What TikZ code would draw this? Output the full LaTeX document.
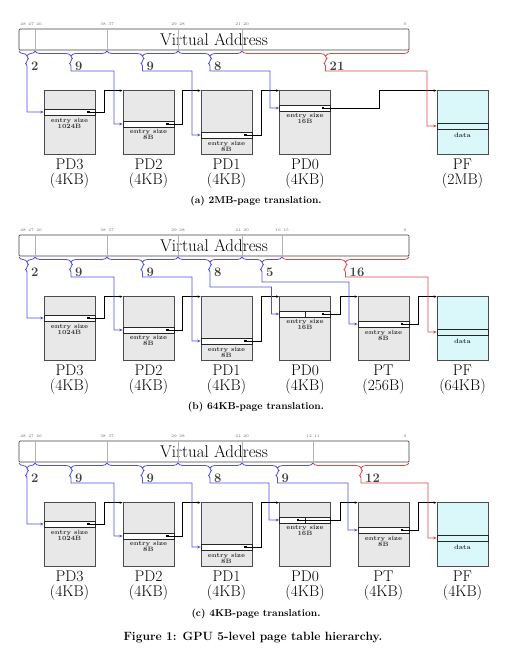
\documentclass[tikz,border=0pt]{standalone}
\usepackage{tikz}
\usetikzlibrary{arrows.meta,decorations.pathreplacing}

\definecolor{vablue}{RGB}{80,80,220}
\definecolor{vared}{RGB}{215,75,75}
\definecolor{pfcyan}{RGB}{218,248,250}
\definecolor{tblgray}{RGB}{232,232,232}

\begin{document}
\begin{tikzpicture}[x=1pt, y=-1pt,
  vabox/.style={draw=black!75, line width=0.7pt, rounded corners=1pt, minimum width=390pt, minimum height=21pt, inner sep=0pt, font=\fontsize{17}{17}\selectfont},
  bitno/.style={font=\fontsize{4}{4}\selectfont, text=black!60, inner sep=0pt},
  bittick/.style={draw=black!30, line width=0.6pt},
  brc/.style={decorate, decoration={brace, amplitude=5pt}, line width=0.8pt},
  bitcount/.style={font=\bfseries\fontsize{13}{13}\selectfont, text=black!75, anchor=west, inner sep=0pt},
  tbl/.style={draw=black!70, fill=tblgray, line width=0.8pt, minimum width=51pt, minimum height=64pt, inner sep=0pt},
  pfbox/.style={tbl, fill=pfcyan},
  entry/.style={draw=black!85, fill=white, line width=0.6pt, minimum width=51pt, minimum height=6pt, inner sep=0pt},
  pfentry/.style={entry, fill=pfcyan},
  esize/.style={font=\bfseries\fontsize{6.3}{6}\selectfont, align=center, inner sep=0pt, text=black!80},
  entdot/.style={fill=black, inner sep=0pt, minimum size=2.5pt},
  link/.style={draw=black, line width=0.6pt, -{Stealth[length=3pt, width=2.4pt]}},
  vaconn/.style={draw=vablue, line width=0.8pt, -{Stealth[length=3.5pt, width=2.8pt]}},
  paconn/.style={vaconn, draw=vared},
  lbl/.style={align=center, font=\fontsize{15.5}{14.5}\selectfont, inner sep=0pt, anchor=north},
  subcap/.style={font=\bfseries\fontsize{10}{12}\selectfont}
]
\useasboundingbox (0,0) rectangle (512,657);

% ================= (a) 2MB page =================
\node[vabox] (ava) at (214,39.5) {Virtual Address};
\draw[bittick] (35,29) -- (35,50);
\draw[bittick] (107,29) -- (107,50);
\draw[bittick] (178,29) -- (178,50);
\draw[bittick] (242,29) -- (242,50);

% bit numbers
\node[bitno] (a48) at (23,24) {48};
\node[bitno] (a47) at (31,24) {47};
\node[bitno] (a46) at (39,24) {46};
\node[bitno] (a38) at (103,24) {38};
\node[bitno] (a37) at (111,24) {37};
\node[bitno] (a29) at (174,24) {29};
\node[bitno] (a28) at (182,24) {28};
\node[bitno] (a21) at (238,24) {21};
\node[bitno] (a20) at (246,24) {20};
\node[bitno] (a0) at (405,24) {0};

% index fields
\draw[brc, vablue] (35,51) -- (19,51);
\draw[brc, vablue] (107,51) -- (35,51);
\draw[brc, vablue] (178,51) -- (107,51);
\draw[brc, vablue] (242,51) -- (178,51);
\draw[brc, vared] (409,51) -- (242,51);
\coordinate (at1) at (27,56);
\coordinate (at2) at (71,56);
\coordinate (at3) at (142.5,56);
\coordinate (at4) at (210,56);
\coordinate (at5) at (325.5,56);
\node[bitcount] (an1) at (31,66) {2};
\node[bitcount] (an2) at (75,66) {9};
\node[bitcount] (an3) at (146.5,66) {9};
\node[bitcount] (an4) at (214,66) {8};
\node[bitcount] (an5) at (329.5,66) {21};

% tables
\node[tbl] (apd3) at (69.5,122) {};
\node[entry] (apd3e) at (69.5,112) {};
\node[esize] (apd3s) at (69.5,123) {entry size\\1024B};
\node[entdot] (apd3d) at (88.5,112) {};
\node[lbl] (apd3l) at (69.5,159) {PD3\\(4KB)};

\node[tbl] (apd2) at (148.5,122) {};
\node[entry] (apd2e) at (148.5,124) {};
\node[esize] (apd2s) at (148.5,134.5) {entry size\\8B};
\node[entdot] (apd2d) at (167.5,124) {};
\node[lbl] (apd2l) at (148.5,159) {PD2\\(4KB)};

\node[tbl] (apd1) at (226.5,122) {};
\node[entry] (apd1e) at (226.5,135) {};
\node[esize] (apd1s) at (226.5,146.5) {entry size\\8B};
\node[entdot] (apd1d) at (245.5,135) {};
\node[lbl] (apd1l) at (226.5,159) {PD1\\(4KB)};

\node[tbl] (apd0) at (305,122) {};
\node[entry] (apd0e) at (305,108) {};
\node[esize] (apd0s) at (305,118) {entry size\\16B};
\node[entdot] (apd0d) at (323,108) {};
\node[lbl] (apd0l) at (305,159) {PD0\\(4KB)};

\node[pfbox] (apf) at (462.5,122) {};
\node[pfentry] (apfe) at (462.5,126) {};
\node[esize] (apfs) at (462.5,135) {data};
\node[lbl] (apfl) at (462.5,159) {PF\\(2MB)};

% next-level pointers
\draw[link] (apd3d.center) -- ++(15.5,0) |- ([yshift=-1pt]apd2.north west);
\draw[link] (apd2d.center) -- ++(14.5,0) |- ([yshift=-1pt]apd1.north west);
\draw[link] (apd1d.center) -- ++(15.5,0) |- ([yshift=-1pt]apd0.north west);
\draw[link] (apd0d.center) -- ++(56,0) |- ([yshift=-1pt]apf.north west);

% index lookups
\draw[vaconn] (at1) sin ++(1.5,2.5) cos ++(-1.5,2.5) sin ++(-1.5,2.5) cos ++(1.5,2.5) |- (apd3e.west);
\draw[vaconn] (at2) sin ++(1.5,2.5) cos ++(-1.5,2.5) sin ++(-1.5,2.5) cos ++(1.5,2.5) |- (114,71) |- (apd2e.west);
\draw[vaconn] (at3) sin ++(1.5,2.5) cos ++(-1.5,2.5) sin ++(-1.5,2.5) cos ++(1.5,2.5) |- (192,71) |- (apd1e.west);
\draw[vaconn] (at4) sin ++(1.5,2.5) cos ++(-1.5,2.5) sin ++(-1.5,2.5) cos ++(1.5,2.5) |- (270,71) |- (apd0e.west);
\draw[paconn] (at5) sin ++(1.5,2.5) cos ++(-1.5,2.5) sin ++(-1.5,2.5) cos ++(1.5,2.5) |- (427,71) |- (apfe.west);

\node[subcap] (acap) at (256,201) {(a) 2MB-page translation.};

% ================= (b) 64KB page =================
\begin{scope}[shift={(0,206)}]
\node[vabox] (bva) at (214,39.5) {Virtual Address};
\draw[bittick] (35,29) -- (35,50);
\draw[bittick] (107,29) -- (107,50);
\draw[bittick] (178,29) -- (178,50);
\draw[bittick] (242,29) -- (242,50);
\draw[bittick] (282,29) -- (282,50);

% bit numbers
\node[bitno] (b48) at (23,24) {48};
\node[bitno] (b47) at (31,24) {47};
\node[bitno] (b46) at (39,24) {46};
\node[bitno] (b38) at (103,24) {38};
\node[bitno] (b37) at (111,24) {37};
\node[bitno] (b29) at (174,24) {29};
\node[bitno] (b28) at (182,24) {28};
\node[bitno] (b21) at (238,24) {21};
\node[bitno] (b20) at (246,24) {20};
\node[bitno] (b16) at (278,24) {16};
\node[bitno] (b15) at (286,24) {15};
\node[bitno] (b0) at (405,24) {0};

% index fields
\draw[brc, vablue] (35,51) -- (19,51);
\draw[brc, vablue] (107,51) -- (35,51);
\draw[brc, vablue] (178,51) -- (107,51);
\draw[brc, vablue] (242,51) -- (178,51);
\draw[brc, vablue] (282,51) -- (242,51);
\draw[brc, vared] (409,51) -- (282,51);
\coordinate (bt1) at (27,56);
\coordinate (bt2) at (71,56);
\coordinate (bt3) at (142.5,56);
\coordinate (bt4) at (210,56);
\coordinate (bt5) at (262,56);
\coordinate (bt6) at (345.5,56);
\node[bitcount] (bn1) at (31,66) {2};
\node[bitcount] (bn2) at (75,66) {9};
\node[bitcount] (bn3) at (146.5,66) {9};
\node[bitcount] (bn4) at (214,66) {8};
\node[bitcount] (bn5) at (266,66) {5};
\node[bitcount] (bn6) at (349.5,66) {16};

% tables
\node[tbl] (bpd3) at (69.5,122) {};
\node[entry] (bpd3e) at (69.5,112) {};
\node[esize] (bpd3s) at (69.5,123) {entry size\\1024B};
\node[entdot] (bpd3d) at (88.5,112) {};
\node[lbl] (bpd3l) at (69.5,159) {PD3\\(4KB)};

\node[tbl] (bpd2) at (148.5,122) {};
\node[entry] (bpd2e) at (148.5,124) {};
\node[esize] (bpd2s) at (148.5,134.5) {entry size\\8B};
\node[entdot] (bpd2d) at (167.5,124) {};
\node[lbl] (bpd2l) at (148.5,159) {PD2\\(4KB)};

\node[tbl] (bpd1) at (226.5,122) {};
\node[entry] (bpd1e) at (226.5,135) {};
\node[esize] (bpd1s) at (226.5,146.5) {entry size\\8B};
\node[entdot] (bpd1d) at (245.5,135) {};
\node[lbl] (bpd1l) at (226.5,159) {PD1\\(4KB)};

\node[tbl] (bpd0) at (305,122) {};
\node[entry] (bpd0e) at (305,108) {};
\draw[line width=0.6pt, black!85] (bpd0e.north) -- (bpd0e.south);
\node[esize] (bpd0s) at (305,118) {entry size\\16B};
\node[entdot] (bpd0d) at (323,108) {};
\node[lbl] (bpd0l) at (305,159) {PD0\\(4KB)};

\node[tbl] (bpt) at (383.5,122) {};
\node[entry] (bpte) at (383.5,118) {};
\node[esize] (bpts) at (383.5,129) {entry size\\8B};
\node[entdot] (bptd) at (402,118) {};
\node[lbl] (bptl) at (383.5,159) {PT\\(256B)};

\node[pfbox] (bpf) at (462.5,122) {};
\node[pfentry] (bpfe) at (462.5,126) {};
\node[esize] (bpfs) at (462.5,135) {data};
\node[lbl] (bpfl) at (462.5,159) {PF\\(64KB)};

% next-level pointers
\draw[link] (bpd3d.center) -- ++(15.5,0) |- ([yshift=-1pt]bpd2.north west);
\draw[link] (bpd2d.center) -- ++(14.5,0) |- ([yshift=-1pt]bpd1.north west);
\draw[link] (bpd1d.center) -- ++(15.5,0) |- ([yshift=-1pt]bpd0.north west);
\draw[link] (bpd0d.center) -- ++(17,0) |- ([yshift=-1pt]bpt.north west);
\draw[link] (bptd.center) -- ++(16,0) |- ([yshift=-1pt]bpf.north west);

% index lookups
\draw[vaconn] (bt1) sin ++(1.5,2.5) cos ++(-1.5,2.5) sin ++(-1.5,2.5) cos ++(1.5,2.5) |- (bpd3e.west);
\draw[vaconn] (bt2) sin ++(1.5,2.5) cos ++(-1.5,2.5) sin ++(-1.5,2.5) cos ++(1.5,2.5) |- (114,71) |- (bpd2e.west);
\draw[vaconn] (bt3) sin ++(1.5,2.5) cos ++(-1.5,2.5) sin ++(-1.5,2.5) cos ++(1.5,2.5) |- (192,71) |- (bpd1e.west);
\draw[vaconn] (bt4) sin ++(1.5,2.5) cos ++(-1.5,2.5) sin ++(-1.5,2.5) cos ++(1.5,2.5) |- (271.5,81) |- (bpd0e.west);
\draw[vaconn] (bt5) sin ++(1.5,2.5) cos ++(-1.5,2.5) sin ++(-1.5,2.5) cos ++(1.5,2.5) |- (349,76) |- (bpte.west);
\draw[paconn] (bt6) sin ++(1.5,2.5) cos ++(-1.5,2.5) sin ++(-1.5,2.5) cos ++(1.5,2.5) |- (428,71) |- (bpfe.west);

\node[subcap] (bcap) at (256,201) {(b) 64KB-page translation.};
\end{scope}

% ================= (c) 4KB page =================
\begin{scope}[shift={(0,412)}]
\node[vabox] (cva) at (214,39.5) {Virtual Address};
\draw[bittick] (35,29) -- (35,50);
\draw[bittick] (107,29) -- (107,50);
\draw[bittick] (178,29) -- (178,50);
\draw[bittick] (242,29) -- (242,50);
\draw[bittick] (313,29) -- (313,50);

% bit numbers
\node[bitno] (c48) at (23,24) {48};
\node[bitno] (c47) at (31,24) {47};
\node[bitno] (c46) at (39,24) {46};
\node[bitno] (c38) at (103,24) {38};
\node[bitno] (c37) at (111,24) {37};
\node[bitno] (c29) at (174,24) {29};
\node[bitno] (c28) at (182,24) {28};
\node[bitno] (c21) at (238,24) {21};
\node[bitno] (c20) at (246,24) {20};
\node[bitno] (c12) at (309,24) {12};
\node[bitno] (c11) at (317,24) {11};
\node[bitno] (c0) at (405,24) {0};

% index fields
\draw[brc, vablue] (35,51) -- (19,51);
\draw[brc, vablue] (107,51) -- (35,51);
\draw[brc, vablue] (178,51) -- (107,51);
\draw[brc, vablue] (242,51) -- (178,51);
\draw[brc, vablue] (313,51) -- (242,51);
\draw[brc, vared] (409,51) -- (313,51);
\coordinate (ct1) at (27,56);
\coordinate (ct2) at (71,56);
\coordinate (ct3) at (142.5,56);
\coordinate (ct4) at (210,56);
\coordinate (ct5) at (277.5,56);
\coordinate (ct6) at (361,56);
\node[bitcount] (cn1) at (31,66) {2};
\node[bitcount] (cn2) at (75,66) {9};
\node[bitcount] (cn3) at (146.5,66) {9};
\node[bitcount] (cn4) at (214,66) {8};
\node[bitcount] (cn5) at (281.5,66) {9};
\node[bitcount] (cn6) at (365,66) {12};

% tables
\node[tbl] (cpd3) at (69.5,122) {};
\node[entry] (cpd3e) at (69.5,112) {};
\node[esize] (cpd3s) at (69.5,123) {entry size\\1024B};
\node[entdot] (cpd3d) at (88.5,112) {};
\node[lbl] (cpd3l) at (69.5,159) {PD3\\(4KB)};

\node[tbl] (cpd2) at (148.5,122) {};
\node[entry] (cpd2e) at (148.5,124) {};
\node[esize] (cpd2s) at (148.5,134.5) {entry size\\8B};
\node[entdot] (cpd2d) at (167.5,124) {};
\node[lbl] (cpd2l) at (148.5,159) {PD2\\(4KB)};

\node[tbl] (cpd1) at (226.5,122) {};
\node[entry] (cpd1e) at (226.5,135) {};
\node[esize] (cpd1s) at (226.5,146.5) {entry size\\8B};
\node[entdot] (cpd1d) at (245.5,135) {};
\node[lbl] (cpd1l) at (226.5,159) {PD1\\(4KB)};

\node[tbl] (cpd0) at (305,122) {};
\node[entry] (cpd0e) at (305,108) {};
\draw[line width=0.6pt, black!85] (cpd0e.north) -- (cpd0e.south);
\node[esize] (cpd0s) at (305,118) {entry size\\16B};
\node[entdot] (cpd0d) at (298,108) {};
\node[lbl] (cpd0l) at (305,159) {PD0\\(4KB)};

\node[tbl] (cpt) at (383.5,122) {};
\node[entry] (cpte) at (383.5,118) {};
\node[esize] (cpts) at (383.5,129) {entry size\\8B};
\node[entdot] (cptd) at (402,118) {};
\node[lbl] (cptl) at (383.5,159) {PT\\(4KB)};

\node[pfbox] (cpf) at (462.5,122) {};
\node[pfentry] (cpfe) at (462.5,126) {};
\node[esize] (cpfs) at (462.5,135) {data};
\node[lbl] (cpfl) at (462.5,159) {PF\\(4KB)};

% next-level pointers
\draw[link] (cpd3d.center) -- ++(15.5,0) |- ([yshift=-1pt]cpd2.north west);
\draw[link] (cpd2d.center) -- ++(14.5,0) |- ([yshift=-1pt]cpd1.north west);
\draw[link] (cpd1d.center) -- ++(15.5,0) |- ([yshift=-1pt]cpd0.north west);
\draw[link] (cpd0d.center) -- ++(42,0) |- ([yshift=-1pt]cpt.north west);
\draw[link] (cptd.center) -- ++(16,0) |- ([yshift=-1pt]cpf.north west);

% index lookups
\draw[vaconn] (ct1) sin ++(1.5,2.5) cos ++(-1.5,2.5) sin ++(-1.5,2.5) cos ++(1.5,2.5) |- (cpd3e.west);
\draw[vaconn] (ct2) sin ++(1.5,2.5) cos ++(-1.5,2.5) sin ++(-1.5,2.5) cos ++(1.5,2.5) |- (114,71) |- (cpd2e.west);
\draw[vaconn] (ct3) sin ++(1.5,2.5) cos ++(-1.5,2.5) sin ++(-1.5,2.5) cos ++(1.5,2.5) |- (192,71) |- (cpd1e.west);
\draw[vaconn] (ct4) sin ++(1.5,2.5) cos ++(-1.5,2.5) sin ++(-1.5,2.5) cos ++(1.5,2.5) |- (269,71) |- (cpd0e.west);
\draw[vaconn] (ct5) sin ++(1.5,2.5) cos ++(-1.5,2.5) sin ++(-1.5,2.5) cos ++(1.5,2.5) |- (348,71) |- (cpte.west);
\draw[paconn] (ct6) sin ++(1.5,2.5) cos ++(-1.5,2.5) sin ++(-1.5,2.5) cos ++(1.5,2.5) |- (428,71) |- (cpfe.west);

\node[subcap] (ccap) at (256,202) {(c) 4KB-page translation.};
\end{scope}

\node[font=\bfseries\fontsize{12}{14}\selectfont] (figcap) at (253,638) {Figure 1: GPU 5-level page table hierarchy.};

\end{tikzpicture}
\end{document}
